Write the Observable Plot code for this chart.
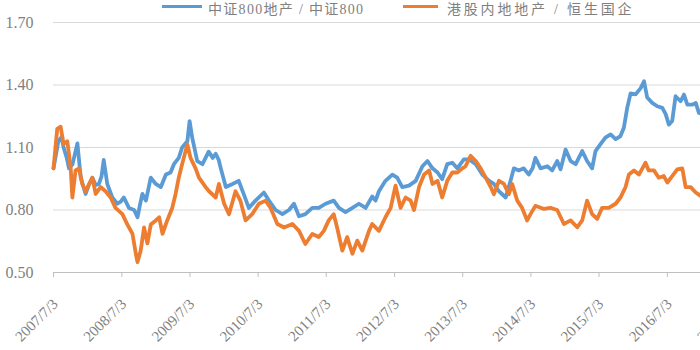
<!DOCTYPE html>
<html><head><meta charset="utf-8">
<script src="https://cdn.jsdelivr.net/npm/d3@7"></script>
<script src="https://cdn.jsdelivr.net/npm/@observablehq/plot@0.6"></script>
<style>
html,body{margin:0;padding:0;background:#fff;overflow:hidden;}
#wrap{width:700px;height:350px;overflow:hidden;position:relative;}
#chart svg{max-width:none !important;}
#legend{position:absolute;left:0;top:0;width:700px;height:16px;z-index:2;font-family:"Liberation Serif","Noto Sans CJK SC",serif;font-size:14px;color:#7f7f7f;}
.item{position:absolute;top:0;display:flex;align-items:center;height:16px;white-space:nowrap;}
.sw{display:inline-block;height:3px;}
</style></head><body>
<div id="wrap"><div id="chart"></div><div id="legend"></div></div>
<script>
const seriesNames = ["中证800地产 / 中证800", "港股内地地产 / 恒生国企"];
const seriesColors = ["#5B9BD5", "#ED7D31"];
const yTicks = [0.5, 0.8, 1.1, 1.4, 1.7];
const tickYears = [2007, 2008, 2009, 2010, 2011, 2012, 2013, 2014, 2015, 2016, 2017];
const tickLabels = ["2007/7/3","2008/7/3","2009/7/3","2010/7/3","2011/7/3","2012/7/3","2013/7/3","2014/7/3","2015/7/3","2016/7/3","2017/7/3"];

const blueDates = ["2007-07-03","2007-07-29","2007-08-15","2007-08-26","2007-09-12","2007-09-24","2007-10-13","2007-11-08","2007-11-26","2007-12-22",
"2008-01-08","2008-01-27","2008-02-14","2008-03-02","2008-03-16","2008-03-28","2008-04-16","2008-05-13","2008-06-09","2008-06-27",
"2008-07-14","2008-08-10","2008-09-07","2008-09-25","2008-10-07","2008-10-21","2008-11-09","2008-12-05","2009-01-01","2009-01-28",
"2009-02-24","2009-03-21","2009-04-08","2009-05-04","2009-05-22","2009-06-19","2009-07-01","2009-07-15","2009-08-11","2009-09-08",
"2009-10-11","2009-11-02","2009-11-18","2009-12-04","2009-12-15","2010-01-11","2010-02-16","2010-03-21","2010-04-17","2010-05-14",
"2010-06-19","2010-08-03","2010-08-30","2010-10-05","2010-11-10","2010-12-15","2011-01-11","2011-02-07","2011-03-13","2011-04-19",
"2011-05-24","2011-06-29","2011-08-12","2011-09-09","2011-10-14","2011-11-20","2011-12-25","2012-01-30","2012-03-05","2012-03-23",
"2012-04-10","2012-05-15","2012-06-21","2012-07-17","2012-08-13","2012-09-18","2012-10-24","2012-11-29","2012-12-26","2013-01-22",
"2013-02-18","2013-03-15","2013-04-11","2013-05-08","2013-06-04","2013-07-09","2013-08-05","2013-09-11","2013-10-16","2013-11-21",
"2013-12-17","2014-01-13","2014-02-18","2014-03-16","2014-04-03","2014-04-29","2014-05-26","2014-06-22","2014-07-12","2014-07-27",
"2014-08-24","2014-09-29","2014-10-25","2014-11-21","2014-12-09","2015-01-05","2015-02-01","2015-02-28","2015-04-04","2015-04-30",
"2015-05-27","2015-06-14","2015-07-10","2015-08-06","2015-09-03","2015-09-30","2015-10-26","2015-11-13","2015-12-01","2015-12-19",
"2016-01-15","2016-02-11","2016-02-29","2016-03-17","2016-04-13","2016-05-10","2016-06-06","2016-06-24","2016-07-11","2016-07-29",
"2016-08-16","2016-09-12","2016-09-30","2016-10-18","2016-11-14","2016-12-02","2016-12-19","2017-01-09"];
const blueValues = [1.00,1.13,1.15,1.10,1.05,1.00,1.02,1.12,0.955,0.877,
0.92,0.955,0.92,0.925,0.96,1.04,0.925,0.86,0.83,0.84,
0.86,0.81,0.80,0.765,0.82,0.877,0.845,0.955,0.925,0.91,
0.97,0.98,1.02,1.05,1.10,1.13,1.227,1.147,1.035,1.02,
1.08,1.05,1.07,1.04,1.00,0.91,0.925,0.94,0.876,0.81,
0.845,0.884,0.845,0.80,0.78,0.80,0.83,0.77,0.78,0.81,
0.81,0.83,0.845,0.81,0.79,0.81,0.83,0.81,0.865,0.845,
0.89,0.94,0.97,0.955,0.91,0.917,0.94,1.01,1.035,1.00,
0.98,0.948,1.02,1.027,1.00,1.043,1.043,1.02,0.97,0.94,
0.925,0.89,0.86,0.94,1.00,0.99,1.00,0.97,1.00,1.05,
1.00,1.01,0.99,1.035,0.995,1.09,1.035,1.02,1.083,1.035,
1.00,1.083,1.115,1.147,1.163,1.14,1.155,1.195,1.29,1.36,
1.355,1.385,1.418,1.34,1.314,1.298,1.29,1.26,1.21,1.227,
1.346,1.322,1.354,1.306,1.306,1.314,1.266,1.26];

const orangeDates = ["2007-07-03","2007-07-23","2007-08-10","2007-08-26","2007-09-15","2007-10-03","2007-10-12","2007-10-29","2007-11-17","2007-12-04",
"2007-12-22","2008-01-27","2008-02-14","2008-03-11","2008-04-07","2008-05-04","2008-05-30","2008-07-06","2008-08-02","2008-08-29",
"2008-09-16","2008-09-25","2008-10-12","2008-10-30","2008-11-17","2008-12-05","2009-01-01","2009-01-19","2009-02-06","2009-03-03",
"2009-03-30","2009-04-17","2009-05-04","2009-05-22","2009-06-19","2009-07-06","2009-08-02","2009-08-20","2009-09-25","2009-10-13",
"2009-11-18","2009-12-05","2010-01-02","2010-01-28","2010-03-04","2010-03-30","2010-04-27","2010-06-01","2010-07-07","2010-08-12",
"2010-09-08","2010-10-14","2010-11-19","2011-01-03","2011-02-07","2011-03-13","2011-04-19","2011-05-24","2011-06-20","2011-07-16",
"2011-08-12","2011-08-30","2011-09-27","2011-10-23","2011-11-20","2011-12-16","2012-01-12","2012-02-17","2012-03-05","2012-04-10",
"2012-05-15","2012-06-12","2012-07-08","2012-08-04","2012-08-31","2012-09-27","2012-10-15","2012-11-11","2012-12-08","2013-01-04",
"2013-01-22","2013-02-18","2013-03-15","2013-04-11","2013-05-08","2013-06-04","2013-07-01","2013-07-18","2013-08-14","2013-09-11",
"2013-10-07","2013-11-03","2013-11-30","2013-12-17","2014-01-13","2014-02-09","2014-03-07","2014-03-25","2014-04-21","2014-05-17",
"2014-06-13","2014-07-01","2014-07-27","2014-09-11","2014-10-16","2014-11-21","2014-12-27","2015-02-01","2015-03-08","2015-04-04",
"2015-04-30","2015-05-27","2015-06-23","2015-07-19","2015-08-24","2015-09-30","2015-10-26","2015-11-22","2015-12-10","2016-01-06",
"2016-02-02","2016-03-08","2016-03-25","2016-04-22","2016-05-18","2016-06-14","2016-07-03","2016-07-29","2016-08-25","2016-09-21",
"2016-10-09","2016-11-05","2016-12-02","2016-12-28"];
const orangeValues = [1.00,1.19,1.20,1.117,1.13,1.003,0.86,0.99,1.00,0.925,
0.89,0.955,0.877,0.91,0.89,0.86,0.81,0.78,0.73,0.686,
0.59,0.55,0.605,0.716,0.64,0.73,0.75,0.765,0.686,0.75,
0.81,0.877,0.955,1.02,1.115,1.05,1.00,0.955,0.91,0.89,
0.86,0.925,0.83,0.78,0.89,0.845,0.75,0.78,0.83,0.845,
0.81,0.733,0.716,0.733,0.70,0.637,0.685,0.67,0.70,0.75,
0.78,0.716,0.605,0.67,0.59,0.653,0.605,0.70,0.733,0.70,
0.765,0.81,0.917,0.81,0.86,0.845,0.80,0.91,0.97,0.99,
0.925,0.94,0.86,0.94,0.98,0.98,1.00,1.01,1.06,1.035,
1.00,0.955,0.91,0.876,0.94,0.925,0.876,0.925,0.845,0.81,
0.75,0.78,0.82,0.805,0.81,0.80,0.733,0.75,0.717,0.75,
0.845,0.78,0.757,0.81,0.81,0.83,0.86,0.91,0.97,0.99,
0.97,1.027,0.99,0.99,0.955,0.963,0.932,0.963,0.995,1.00,
0.91,0.91,0.884,0.868];

const blue = blueDates.map((d, i) => ({date: new Date(d), value: blueValues[i]}));
const orange = orangeDates.map((d, i) => ({date: new Date(d), value: orangeValues[i]}));
const tickDates = tickYears.map(y => new Date(Date.UTC(y, 6, 3)));

// legend
const legend = document.getElementById("legend");
const legendLayout = [{left: 162, sw: 40, gap: 6, ls: 1.3}, {left: 403, sw: 35, gap: 9, ls: 2.8}];
seriesNames.forEach((name, i) => {
  const it = document.createElement("div");
  it.className = "item";
  it.style.left = legendLayout[i].left + "px";
  const sw = document.createElement("span");
  sw.className = "sw";
  sw.style.width = legendLayout[i].sw + "px";
  sw.style.background = seriesColors[i];
  sw.style.marginRight = legendLayout[i].gap + "px";
  sw.style.marginTop = "-4px";
  const tx = document.createElement("span");
  tx.textContent = name;
  tx.style.letterSpacing = legendLayout[i].ls + "px";
  it.appendChild(sw); it.appendChild(tx);
  legend.appendChild(it);
});

const chart = Plot.plot({
  width: 740, height: 350,
  marginTop: 22, marginBottom: 78, marginLeft: 53, marginRight: 5,
  style: {fontFamily: "'Liberation Serif', serif", fontSize: "16px", color: "#7f7f7f", background: "#fff", maxWidth: "none"},
  x: {type: "utc", domain: [tickDates[0], tickDates[tickDates.length - 1]], axis: null},
  y: {domain: [yTicks[0], yTicks[yTicks.length - 1]], axis: null},
  marks: [
    Plot.ruleY(yTicks.slice(1), {stroke: "#d9d9d9", strokeWidth: 1}),
    Plot.ruleY([yTicks[0]], {stroke: "#bfbfbf", strokeWidth: 1}),
    Plot.axisX({ticks: tickDates, tickSize: 5, tickFormat: () => "", stroke: "#bfbfbf", strokeOpacity: 1, label: null}),
    Plot.axisY({ticks: yTicks, tickSize: 0, tickPadding: 20, tickFormat: d3.format(".2f"), fontSize: 16, fill: "#7f7f7f", label: null}),
    Plot.text(tickDates, {x: d => d, frameAnchor: "bottom", text: (d, i) => tickLabels[i], rotate: -45, textAnchor: "end", lineAnchor: "middle", dx: 2, dy: 29, fill: "#7f7f7f", fontSize: 15}),
    Plot.line(blue, {x: "date", y: "value", stroke: seriesColors[0], strokeWidth: 3.8, strokeLinejoin: "round"}),
    Plot.line(orange, {x: "date", y: "value", stroke: seriesColors[1], strokeWidth: 3.8, strokeLinejoin: "round"})
  ]
});
chart.style.maxWidth = "none";
document.getElementById("chart").appendChild(chart);
</script>
</body></html>
